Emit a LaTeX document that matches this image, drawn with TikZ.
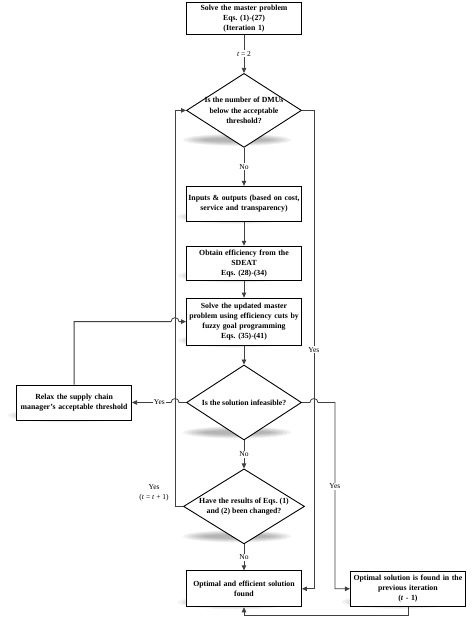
\documentclass[tikz,border=0pt]{standalone}
\usepackage{fontspec}
\setmainfont{Liberation Serif}
\frenchspacing
\usetikzlibrary{shapes.geometric,arrows.meta,positioning,backgrounds}

\begin{document}
\begin{tikzpicture}[
    x=1pt, y=1pt,
    node distance=20pt,
    box/.style={rectangle, draw, line width=0.9pt, fill=white, text width=113pt, align=center, minimum width=115pt, inner sep=1pt, font=\fontsize{7.8}{10}\selectfont\bfseries},
    decision/.style={diamond, aspect=1.5, draw, line width=0.9pt, fill=white, align=center, minimum width=115pt, minimum height=75pt, inner sep=-6pt, font=\fontsize{7.8}{10.5}\selectfont\bfseries},
    line/.style={draw=black!75, line width=0.8pt},
    arrow/.style={line, -{Triangle[length=5pt,width=4.5pt]}},
    lbl/.style={fill=white, inner sep=1pt, font=\fontsize{7.5}{9.5}\selectfont},
    smudge/.style={fill=black, opacity=0.055}
]
\useasboundingbox (0,0) rectangle (474,-620);

% Main column
\node[box, minimum height=32pt] (master) at (244,-18.5) {Solve the master problem\\Eqs. (1)-(27)\\(Iteration 1)};
\node[decision, minimum height=74pt, below=38pt of master] (dmu) {Is the number of DMUs\\below the acceptable\\threshold?};
\node[box, minimum height=35pt, below=38pt of dmu] (inputs) {Inputs \& outputs (based on cost,\\service and transparency)};
\node[box, minimum height=34pt, below=24pt of inputs] (sdeat) {Obtain efficiency from the\\SDEAT\\Eqs. (28)-(34)};
\node[box, minimum height=47pt, below=17pt of sdeat] (update) {Solve the updated master\\problem using efficiency cuts by\\fuzzy goal programming\\Eqs. (35)-(41)};
\node[decision, below=19pt of update] (infeas) {Is the solution infeasible?};
\node[decision, minimum width=121pt, below=28pt of infeas] (changed) {Have the results of Eqs. (1)\\and (2) been changed?};
\node[box, minimum height=36pt, below=26pt of changed] (optimal) {Optimal and efficient solution\\found};

% Side boxes
\node[box, minimum height=35pt, left=54pt of infeas] (relax) {Relax the supply chain\\manager’s acceptable threshold};
\node[box, minimum height=35pt, right=48pt of optimal] (prev) {Optimal solution is found in the\\previous iteration\\(\textit{t} - 1)};

% Shadows
\begin{scope}[on background layer]
\foreach \n in {inputs,sdeat,update,optimal,prev,relax}
  \foreach \k in {0,...,5}
    \fill[smudge] ([shift={(-8pt,5pt)}]\n.south) ellipse [x radius=58pt-4pt*\k, y radius=7pt-1pt*\k];
\foreach \n in {dmu,infeas,changed}
  \foreach \k in {0,...,5}
    \fill[smudge] ([shift={(-7pt,8pt)}]\n.south) ellipse [x radius=54pt-4pt*\k, y radius=6pt-0.8pt*\k];
\end{scope}

% Rails and crossings
\coordinate (lrail) at ([xshift=-11pt]dmu.west);
\coordinate (rrail) at ([xshift=12pt]dmu.east);
\coordinate (rrail2) at ([xshift=33pt]infeas.east);
\coordinate (hopA) at (lrail |- update.west);
\coordinate (hopB) at (lrail |- infeas.west);
\coordinate (hopC) at (rrail |- infeas.east);

% Arrows
\draw[arrow] (master) -- node[lbl]{\textit{t} = 2} (dmu);
\draw[arrow] (dmu) -- node[lbl]{No} (inputs);
\draw[arrow] (inputs) -- (sdeat);
\draw[arrow] (sdeat) -- (update);
\draw[arrow] (update) -- (infeas);
\draw[arrow] (infeas) -- node[lbl]{No} (changed);
\draw[arrow] (changed) -- node[lbl]{No} (optimal);

\draw[arrow] (changed.west) -- (lrail |- changed.west)
    node[lbl, fill=none, anchor=south east, align=center, xshift=-5pt, yshift=4pt]{Yes\\(\textit{t} = \textit{t} + 1)}
    -- (lrail) -- (dmu.west);
\draw[arrow] (dmu.east) -- (rrail) -- node[lbl]{Yes} (rrail |- optimal.east) -- (optimal.east);
\draw[arrow] (infeas.west) -- ([xshift=4pt]hopB) arc[start angle=0, end angle=180, radius=4pt]
    -- node[lbl, pos=0.3]{Yes} (relax.east);
\draw[arrow] (relax.north) |- ([xshift=-4pt]hopA) arc[start angle=180, end angle=0, radius=4pt] -- (update.west);
\draw[arrow] (infeas.east) -- ([xshift=-4pt]hopC) arc[start angle=180, end angle=0, radius=4pt]
    -- (rrail2) -- node[lbl, pos=0.45]{Yes} (rrail2 |- prev.west) -- (prev.west);
\draw[arrow] (prev.south) -- ++(0,-9) -| (optimal.south);

\end{tikzpicture}
\end{document}
